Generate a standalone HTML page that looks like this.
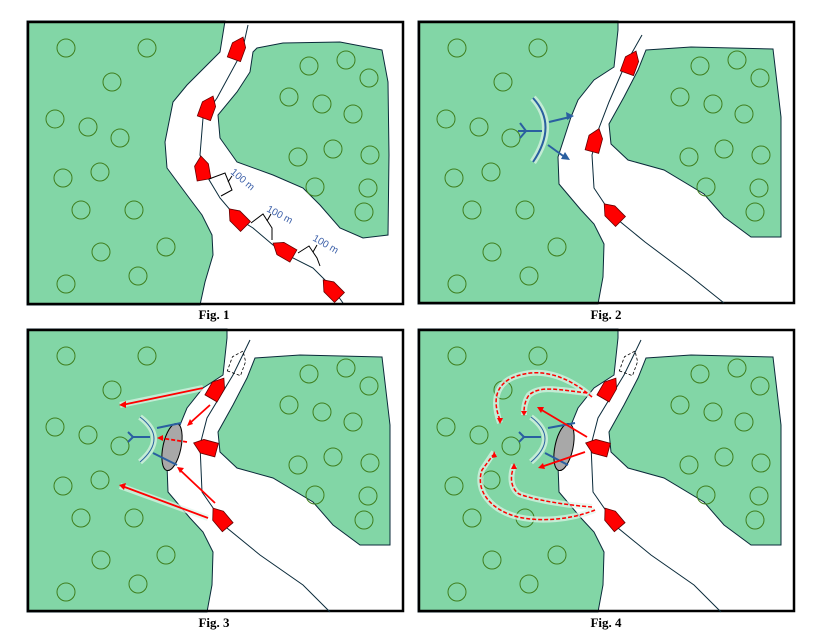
<!DOCTYPE html>
<html><head><meta charset="utf-8"><style>
html,body{margin:0;padding:0;background:#fff;}
svg{display:block;}
</style></head><body>
<svg width="825" height="638" viewBox="0 0 825 638" xmlns="http://www.w3.org/2000/svg">
<defs>
<g id="trees" fill="none" stroke="#3f7f1f" stroke-width="1">
<circle cx="66" cy="48" r="9"/><circle cx="147" cy="48" r="9"/><circle cx="112" cy="82" r="9"/>
<circle cx="55" cy="119" r="9"/><circle cx="88" cy="127" r="9"/><circle cx="120" cy="138" r="9"/>
<circle cx="63" cy="178" r="9"/><circle cx="100" cy="172" r="9"/><circle cx="81" cy="210" r="9"/>
<circle cx="134" cy="210" r="9"/><circle cx="101" cy="252" r="9"/><circle cx="166" cy="247" r="9"/>
<circle cx="66" cy="284" r="9"/><circle cx="138" cy="276" r="9"/>
<circle cx="309" cy="66" r="9"/><circle cx="346" cy="60" r="9"/><circle cx="369" cy="78" r="9"/>
<circle cx="289" cy="97" r="9"/><circle cx="322" cy="104" r="9"/><circle cx="353" cy="114" r="9"/>
<circle cx="298" cy="157" r="9"/><circle cx="333" cy="149" r="9"/><circle cx="370" cy="155" r="9"/>
<circle cx="315" cy="187" r="9"/><circle cx="368" cy="188" r="9"/><circle cx="364" cy="212" r="9"/>
</g>
<polygon id="boat" points="-7,12 7,12 7,-3 1,-12 -7,-3" fill="#f00" stroke="#600" stroke-width="0.8"/>
<g id="base">
<rect x="27" y="329" width="377" height="283" fill="#fff"/>
<path d="M27,329 L227,329 L227,338 L223,375 L203,388 L187,408 L180,425 L167,465 L168,492 L190,518 L203,532 L213,552 L212,585 L207,612 L27,612 Z" fill="#82d6a6" stroke="#0a2a3a" stroke-width="1"/>
<path d="M255,358 L300,355 L382,357 L390,425 L390,545 L360,545 L333,525 L313,502 L273,478 L237,468 L220,452 L218,432 L233,405 L247,378 Z" fill="#82d6a6" stroke="#0a2a3a" stroke-width="1"/>
<g transform="translate(0,308)"><use href="#trees"/></g>
<rect x="28" y="330" width="375" height="281" fill="none" stroke="#000" stroke-width="2.5"/>
</g>
<path id="river3" d="M250,340 L233,375 L207,418 L200,445 L202,492 L227,528 L260,555 L303,585 L330,612" fill="none" stroke="#0a2a3a" stroke-width="1"/>
</defs>

<!-- FIG 1 -->
<rect x="27" y="21" width="377" height="284" fill="#fff"/>
<path d="M27,21 L225,21 L220,52 L187,85 L173,102 L165,142 L167,168 L187,195 L202,215 L212,235 L213,255 L205,282 L200,305 L27,305 Z" fill="#82d6a6" stroke="#0a2a3a" stroke-width="1"/>
<path d="M257,48 L283,43 L340,42 L382,50 L388,82 L389,155 L388,235 L363,238 L340,228 L320,205 L303,188 L273,175 L237,162 L220,138 L218,115 L237,92 L250,72 L253,52 Z" fill="#82d6a6" stroke="#0a2a3a" stroke-width="1"/>
<path d="M248,25 L242,52 L217,98 L203,118 L200,155 L208,178 L220,198 L237,218 L253,228 L273,245 L293,258 L313,268 L330,285 L343,303" fill="none" stroke="#0a2a3a" stroke-width="1"/>
<use href="#trees"/>
<use href="#boat" transform="translate(238,48) rotate(20)"/>
<use href="#boat" transform="translate(208,107) rotate(20)"/>
<use href="#boat" transform="translate(202,168) rotate(-10)"/>
<use href="#boat" transform="translate(237,218) rotate(-45)"/>
<use href="#boat" transform="translate(283,250) rotate(-60)"/>
<use href="#boat" transform="translate(331,289) rotate(-45)"/>
<g fill="none" stroke="#000" stroke-width="1">
<polyline points="209,179 225,173 232,190 221,196"/><line x1="228" y1="182" x2="232" y2="176"/>
<polyline points="251,223 263,214 272,228 272,240"/><line x1="267" y1="221" x2="271" y2="214"/>
<polyline points="298,253 309,246 317,258 320,266"/><line x1="313" y1="252" x2="317" y2="245"/>
</g>
<g font-family="Liberation Sans, sans-serif" font-size="10" fill="#3b5fa8">
<text transform="translate(230,173) rotate(40)">100 m</text>
<text transform="translate(266,211) rotate(28)">100 m</text>
<text transform="translate(312,240) rotate(30)">100 m</text>
</g>
<rect x="28" y="22" width="375" height="282" fill="none" stroke="#000" stroke-width="2.5"/>

<!-- FIG 2 -->
<use href="#base" transform="translate(391,-308)"/>
<path d="M642,35 L625,65 L609,102 L599,128 L592,155 L594,188 L612,215 L645,242 L689,275 L724,303" fill="none" stroke="#0a2a3a" stroke-width="1"/>
<use href="#boat" transform="translate(631,62) rotate(20)"/>
<use href="#boat" transform="translate(595,140) rotate(15)"/>
<use href="#boat" transform="translate(612,213) rotate(-45)"/>
<path d="M533,98 Q558,125 533,162" fill="none" stroke="#e0f5ea" stroke-width="7" stroke-opacity="0.7"/>
<g stroke="#2a5fa0" stroke-width="2" fill="none">
<path d="M533,98 Q558,125 533,162"/>
<line x1="518" y1="131" x2="542" y2="131"/>
<polyline points="520,123 526,131 520,138"/>
<line x1="549" y1="122" x2="570" y2="117"/>
<line x1="548" y1="145" x2="566" y2="158"/>
</g>
<polygon points="574,116 566,112 567,120" fill="#2a5fa0"/>
<polygon points="570,160 565,152 561,159" fill="#2a5fa0"/>

<!-- FIG 3 -->
<use href="#base"/>
<use href="#river3"/>
<use href="#boat" transform="translate(217,388) rotate(30)"/>
<use href="#boat" transform="translate(205,447) rotate(-75)"/>
<use href="#boat" transform="translate(220,518) rotate(-40)"/>
<polygon points="-7,12 7,12 7,-3 1,-12 -7,-3" fill="none" stroke="#000" stroke-width="0.8" stroke-dasharray="3,2" transform="translate(238,362) rotate(20)"/>
<ellipse cx="172" cy="447" rx="9" ry="24" transform="rotate(12 172 447)" fill="#a8a8a8" stroke="#000" stroke-width="1"/>
<g stroke="#e0f5ea" stroke-width="6" stroke-opacity="0.7" fill="none">
<path d="M140,417 Q168,438 140,462"/>
<line x1="203" y1="388" x2="120" y2="405"/><line x1="208" y1="518" x2="120" y2="486"/>
</g>
<path d="M140,417 Q168,438 140,462" stroke="#2a5fa0" stroke-width="1" fill="none"/>
<g stroke="#2a5fa0" stroke-width="2" fill="none">
<line x1="133" y1="437" x2="150" y2="437"/><polyline points="128,432 133,437 128,442"/>
<line x1="157" y1="428" x2="181" y2="423"/><line x1="153" y1="453" x2="177" y2="465"/>
</g>
<g stroke="#f00" stroke-width="1.8" fill="none">
<line x1="203" y1="388" x2="122" y2="405"/>
<line x1="210" y1="405" x2="190" y2="423"/>
<line x1="187" y1="442" x2="160" y2="438" stroke-dasharray="4,2"/>
<line x1="215" y1="503" x2="180" y2="470"/>
<line x1="208" y1="518" x2="122" y2="486"/>
</g>
<g fill="#f00">
<polygon points="119,405 126,401 126,408"/><polygon points="187,426 190,419 193,424"/>
<polygon points="157,438 163,435 163,441"/><polygon points="177,467 184,468 180,473"/>
<polygon points="119,485 126,483 124,490"/>
</g>

<!-- FIG 4 -->
<use href="#base" transform="translate(391,0)"/>
<use href="#river3" transform="translate(391,0)"/>
<use href="#boat" transform="translate(609,388) rotate(30)"/>
<use href="#boat" transform="translate(597,447) rotate(-75)"/>
<use href="#boat" transform="translate(612,518) rotate(-40)"/>
<polygon points="-7,12 7,12 7,-3 1,-12 -7,-3" fill="none" stroke="#000" stroke-width="0.8" stroke-dasharray="3,2" transform="translate(630,362) rotate(20)"/>
<ellipse cx="564" cy="447" rx="9" ry="24" transform="rotate(12 564 447)" fill="#a8a8a8" stroke="#000" stroke-width="1"/>
<g stroke="#e0f5ea" stroke-width="6" stroke-opacity="0.7" fill="none">
<path d="M531,417 Q559,438 531,462"/>
<path d="M592,397 C570,378 545,368 520,375 C500,380 490,395 500,423"/>
<path d="M587,393 C560,390 540,385 529,395 C524,402 524,410 524,415"/>
<path d="M595,510 C570,520 540,522 518,517 C490,510 475,490 482,470 L494,452"/>
<path d="M592,507 C565,505 535,500 519,494 C510,488 510,475 514,465"/>
</g>
<path d="M531,417 Q559,438 531,462" stroke="#2a5fa0" stroke-width="1" fill="none"/>
<g stroke="#2a5fa0" stroke-width="2" fill="none">
<line x1="524" y1="437" x2="541" y2="437"/><polyline points="519,432 524,437 519,442"/>
<line x1="548" y1="428" x2="575" y2="423"/><line x1="545" y1="453" x2="568" y2="465"/>
</g>
<g stroke="#f00" stroke-width="1.5" fill="none" stroke-dasharray="4,2">
<path d="M592,397 C570,378 545,368 520,375 C500,380 490,395 500,420"/>
<path d="M587,393 C560,390 540,385 529,395 C524,402 524,410 524,413"/>
<path d="M595,510 C570,520 540,522 518,517 C490,510 475,490 482,470 L493,455"/>
<path d="M592,507 C565,505 535,500 519,494 C510,488 510,475 514,467"/>
</g>
<g stroke="#f00" stroke-width="1.8">
<line x1="587" y1="437" x2="540" y2="409"/>
<line x1="585" y1="452" x2="541" y2="467"/>
</g>
<g fill="#f00">
<polygon points="537,407 544,407 541,413"/><polygon points="538,468 543,463 545,469"/>
<polygon points="500,424 497,418 503,418"/><polygon points="524,416 521,411 527,411"/>
<polygon points="494,451 492,458 497,457"/><polygon points="514,463 511,469 517,469"/>
</g>

<g font-family="Liberation Serif, serif" font-weight="bold" font-size="13" fill="#000" text-anchor="middle">
<text x="214" y="319">Fig. 1</text>
<text x="606" y="319">Fig. 2</text>
<text x="214" y="627">Fig. 3</text>
<text x="606" y="627">Fig. 4</text>
</g>
</svg>
</body></html>
